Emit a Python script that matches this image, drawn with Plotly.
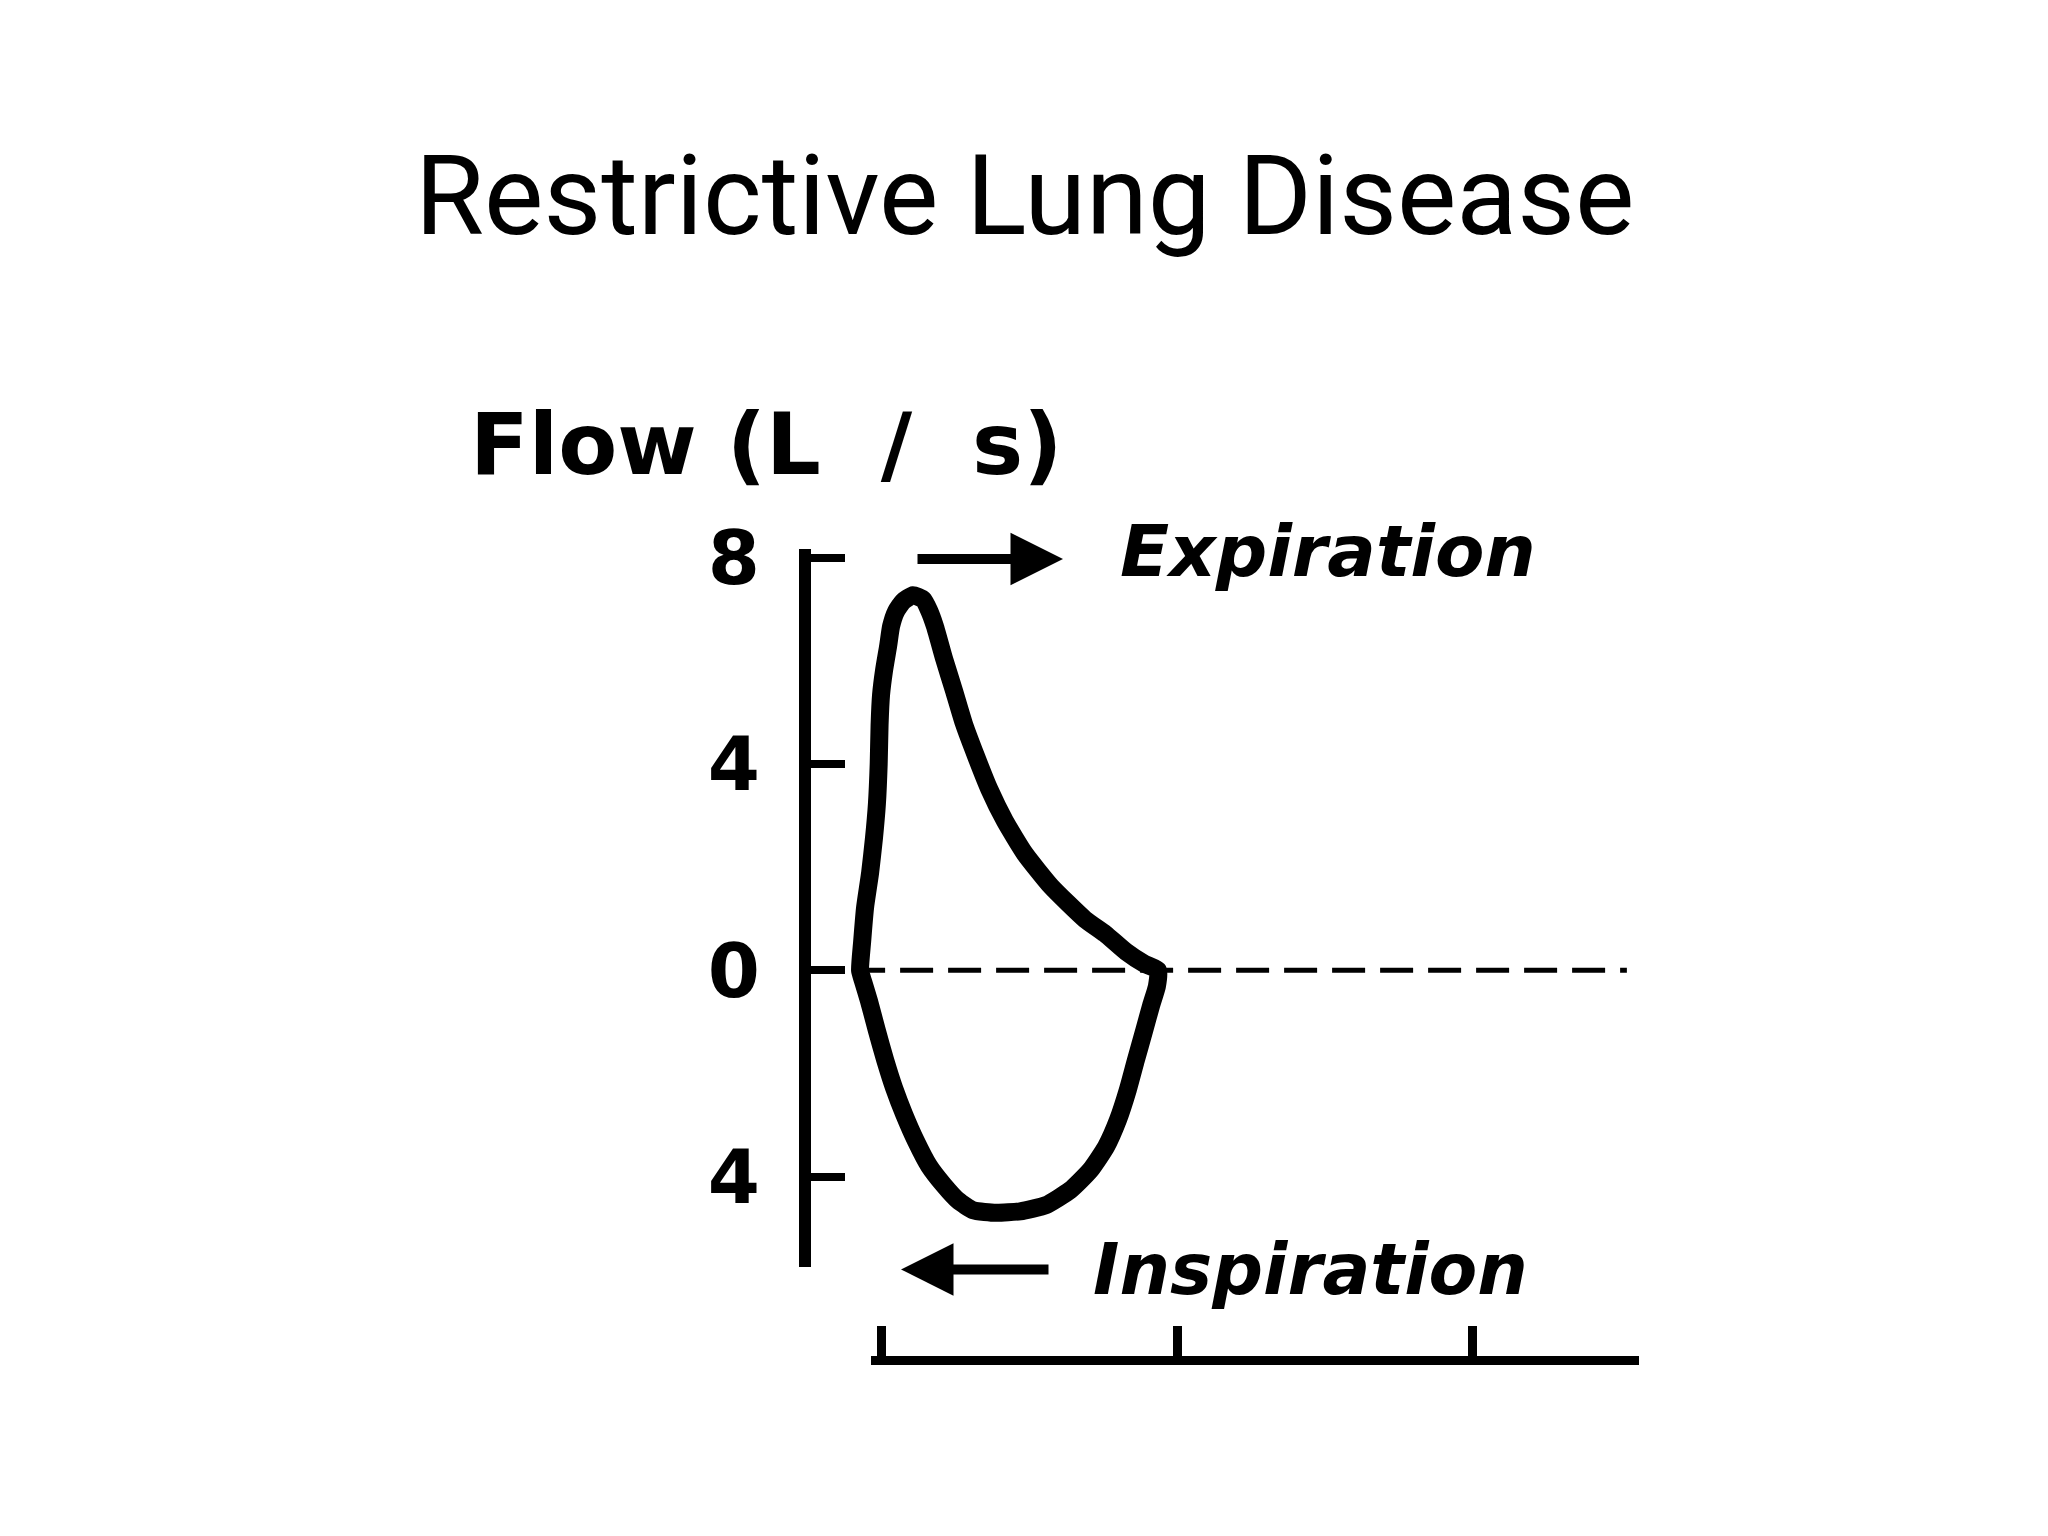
import plotly.graph_objects as go

W, H = 2048, 1536
# the page puts the figure slightly off the window corner; pull it back
OX, OY = -10, -20

# flow-volume loop (volume in L, flow in L/s)
exp_volume = [-0.071, -0.064, -0.054, -0.037, -0.024, -0.014, -0.008, -0.005, 0.000, 0.010,
              0.024, 0.034, 0.051, 0.074, 0.108, 0.142, 0.162, 0.182, 0.213, 0.247,
              0.280, 0.321, 0.365, 0.419, 0.486, 0.574, 0.689, 0.757, 0.828, 0.889,
              0.936]
exp_flow = [0.00, 0.55, 1.22, 1.89, 2.56, 3.23, 4.00, 4.76, 5.34, 5.81,
            6.29, 6.67, 6.96, 7.15, 7.27, 7.19, 6.98, 6.67, 6.04, 5.41,
            4.78, 4.15, 3.52, 2.89, 2.26, 1.63, 0.99, 0.71, 0.36, 0.13,
            0.00]
insp_volume = [0.932, 0.912, 0.889, 0.861, 0.834, 0.801, 0.760, 0.706, 0.639, 0.557,
               0.470, 0.389, 0.311, 0.260, 0.213, 0.162, 0.118, 0.078, 0.044, 0.014,
               -0.014, -0.041, -0.061, -0.071]
insp_flow = [-0.31, -0.69, -1.17, -1.74, -2.31, -2.89, -3.42, -3.88, -4.26, -4.55,
             -4.67, -4.70, -4.65, -4.46, -4.17, -3.79, -3.31, -2.79, -2.28, -1.74,
             -1.17, -0.59, -0.21, 0.00]

flow_ticks = [8, 4, 0, -4]
flow_tick_text = ["8", "4", "0", "4"]
volume_ticks = [0, 1, 2]
zero_line_volume = [-0.26, 2.52]
zero_line_flow = [0, 0]

SANS = "DejaVu Sans"


def px(x):
    return (x + OX) / W


def py(y):
    return 1 - (y + OY) / H


# run the loop from the right-hand end so the left turn is smoothed
loop_x = [exp_volume[-1]] + insp_volume + exp_volume[1:]
loop_y = [exp_flow[-1]] + insp_flow + exp_flow[1:]

fig = go.Figure()

# dashed zero-flow line
fig.add_trace(go.Scatter(
    x=zero_line_volume, y=zero_line_flow, mode="lines",
    line=dict(color="black", width=5, dash="33px,15px"),
    hoverinfo="skip"
))

# the loop itself
fig.add_trace(go.Scatter(
    x=loop_x, y=loop_y, mode="lines",
    line=dict(color="black", width=18, shape="spline", smoothing=0.5),
    hoverinfo="skip"
))

# empty trace so the separate volume axis gets drawn
fig.add_trace(go.Scatter(
    x=volume_ticks, y=[None] * len(volume_ticks), mode="lines",
    xaxis="x2", yaxis="y", hoverinfo="skip"
))

annotations = [
    dict(text="Restrictive Lung Disease", x=px(1026), y=py(176),
         xref="paper", yref="paper", showarrow=False,
         font=dict(family="Roboto", size=112, color="black"),
         xanchor="center", yanchor="middle"),
    dict(text="Flow (L&nbsp; /&nbsp; s)", x=px(470), y=py(430),
         xref="paper", yref="paper", showarrow=False,
         font=dict(family=SANS, size=86, color="black", weight="bold"),
         xanchor="left", yanchor="middle"),
    dict(text="<i>Expiration</i>", x=px(1120), y=py(540),
         xref="paper", yref="paper", showarrow=False,
         font=dict(family=SANS, size=72, color="black", weight="bold"),
         xanchor="left", yanchor="middle"),
    dict(text="<i>Inspiration</i>", x=px(1093), y=py(1275),
         xref="paper", yref="paper", showarrow=False,
         font=dict(family=SANS, size=71, color="black", weight="bold"),
         xanchor="left", yanchor="middle"),
    # arrows
    dict(text="", x=px(1065), y=py(548), ax=-147, ay=0,
         xref="paper", yref="paper", showarrow=True,
         arrowhead=2, arrowwidth=10, arrowsize=1.05, arrowcolor="black"),
    dict(text="", x=px(903), y=py(1275), ax=149, ay=0,
         xref="paper", yref="paper", showarrow=True,
         arrowhead=2, arrowwidth=10, arrowsize=1.05, arrowcolor="black"),
]

fig.update_layout(
    width=W, height=H,
    margin=dict(l=0, r=0, t=0, b=0),
    paper_bgcolor="white", plot_bgcolor="rgba(0,0,0,0)",
    showlegend=False,
    annotations=annotations,
    xaxis=dict(domain=[px(807), px(1641)], range=[-0.257, 2.561],
               visible=False, fixedrange=True),
    xaxis2=dict(domain=[px(873), px(1641)], range=[-0.034, 2.561],
                anchor="free", position=py(1368),
                showline=True, linecolor="black", linewidth=9,
                ticks="inside", tickvals=volume_ticks, ticklen=30,
                tickwidth=9, tickcolor="black", showticklabels=False,
                showgrid=False, zeroline=False, fixedrange=True),
    yaxis=dict(domain=[py(1273), py(538)], range=[-5.758, 8.163],
               anchor="free", position=px(807),
               showline=True, linecolor="black", linewidth=12,
               ticks="inside", tickvals=flow_ticks, ticktext=flow_tick_text,
               ticklen=34, tickwidth=8, tickcolor="black",
               ticklabelstandoff=24,
               tickfont=dict(family=SANS, size=75, color="black", weight="bold"),
               showgrid=False, zeroline=False, fixedrange=True),
)

fig.write_html("out.html")
